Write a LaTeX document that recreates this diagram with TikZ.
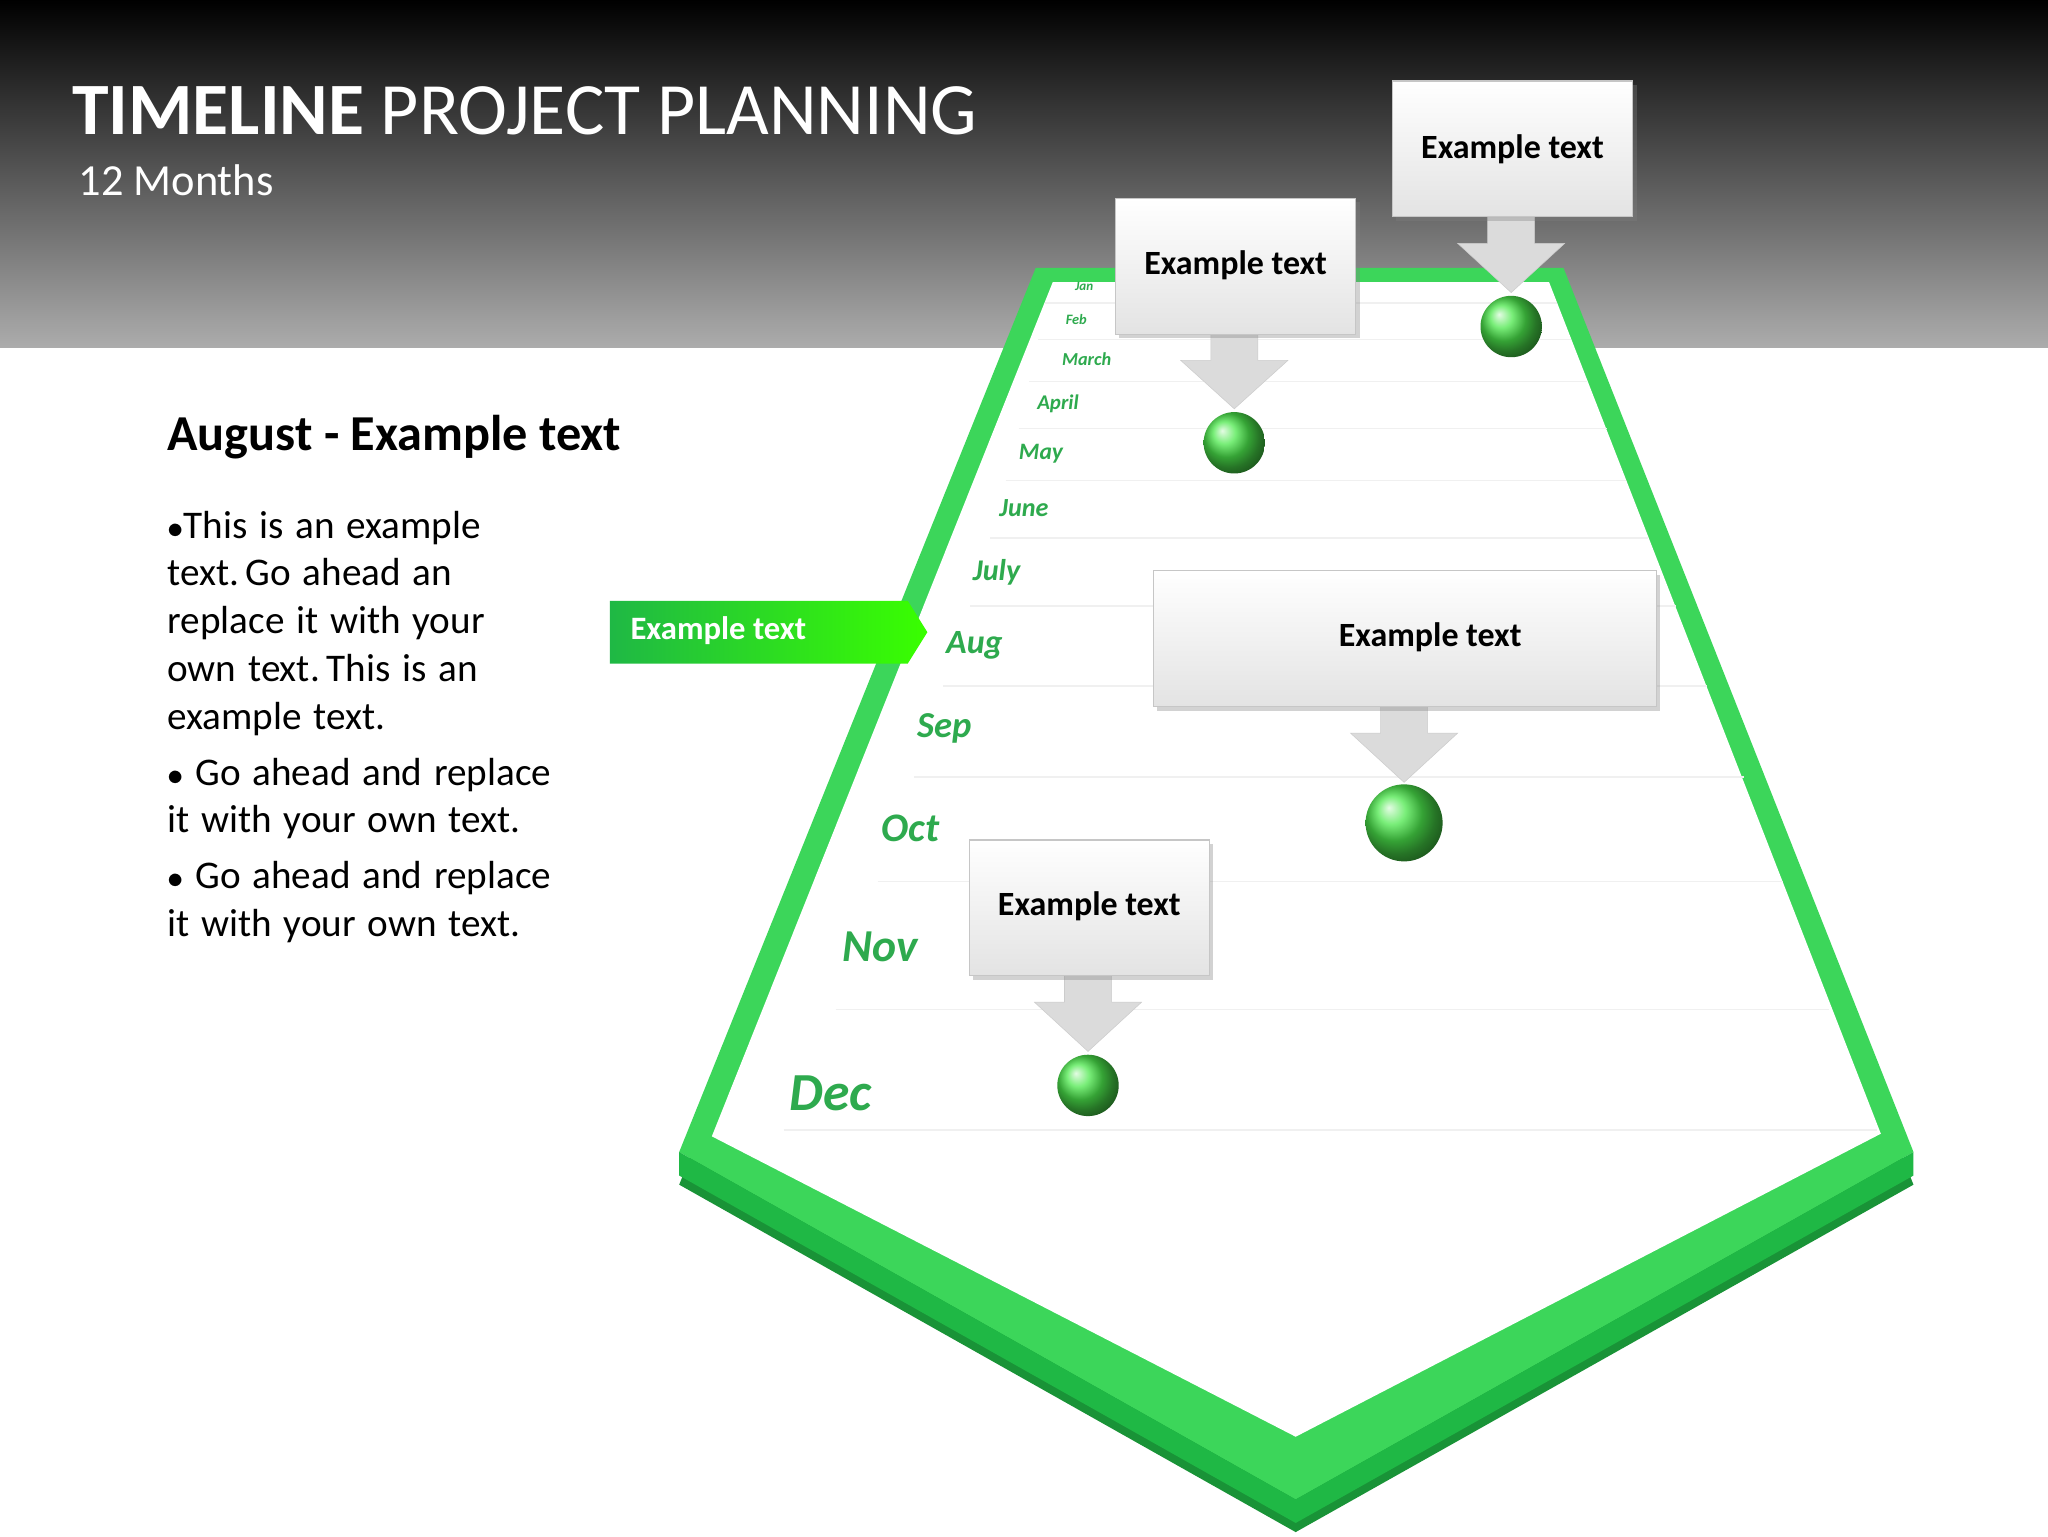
\documentclass[tikz,border=0pt]{standalone}
\usepackage{fontspec}
\setmainfont{Carlito}
\usetikzlibrary{shadows}
\definecolor{gA}{HTML}{3CD65A}
\definecolor{gB}{HTML}{1FB845}
\definecolor{gC}{HTML}{2EAA4E}
\definecolor{ballg}{HTML}{4CE84C}
\tikzset{
 callout/.style={draw=gray!45,line width=1pt,top color=white,bottom color=gray!22,drop shadow={opacity=0.35,shadow xshift=3pt,shadow yshift=-3pt}},
 ball/.style={circle,inner sep=0pt,minimum size=#1,ball color=ballg,shading=ball},
 ctext/.style={font=\bfseries\fontsize{26}{30}\selectfont,text=black},
 month/.style={text=gC,font=\bfseries\itshape\fontsize{#1}{#1}\selectfont}
}
\newcommand{\downarrowshape}[4]{% x, ytop, ytip, headwidth
 \fill[gray!28,draw=gray!40] (#1-18,#2) -- (#1+18,#2) -- (#1+18,#2+0.35*#3-0.35*#2) -- (#1+#4/2,#2+0.35*#3-0.35*#2) -- (#1,#3) -- (#1-#4/2,#2+0.35*#3-0.35*#2) -- (#1-18,#2+0.35*#3-0.35*#2) -- cycle;}
\begin{document}
\begin{tikzpicture}[x=1pt,y=-1pt]
\useasboundingbox (0,0) rectangle (1568,1176);
\fill[white] (0,0) rectangle (1568,1176);
\shade[top color=black,bottom color=gray!65] (0,0) rectangle (1568,266);
% titles
\node[anchor=base west,text=white,inner sep=0] (title) at (55,103) {\fontsize{56.5}{60}\selectfont\textbf{TIMELINE} PROJECT PLANNING};
\node[anchor=base west,text=white,inner sep=0] (sub) at (60,150) {\fontsize{34}{36}\selectfont 12 Months};
\node[anchor=base west,inner sep=0] (head) at (128,345) {\fontsize{38.5}{42}\selectfont\bfseries August - Example text};
\node[anchor=north west,inner sep=0,align=left,text width=340pt] (body) at (128,391) {\fontsize{30}{36.6}\selectfont\spaceskip=0.3em plus 0.1em
$\bullet$This is an example\\ text. Go ahead an\\ replace it with your\\ own text. This is an\\ example text.\\[6pt]
$\bullet$ Go ahead and replace\\ it with your own text.\\[6pt]
$\bullet$ Go ahead and replace\\ it with your own text.\par};
% board
\fill[gB!80!black] (793,230) -- (1197,230) -- (1465,907) -- (992,1173) -- (520,907) -- cycle;
\fill[gA] (793,205) -- (1197,205) -- (1465,882) -- (992,1148) -- (520,882) -- cycle;
\fill[gB] (520,882) -- (992,1148) -- (1465,882) -- (1465,900) -- (992,1166) -- (520,900) -- cycle;
\fill[white] (806,216) -- (1186,216) -- (1440,868) -- (992,1100) -- (545,870) -- cycle;
\foreach \y/\xl/\xr in {232/800/1192,260/795/1203,292/788/1215,328/780/1230,368/770/1245,412/758/1262,464/743/1283,525/722/1307,595/700/1335,675/672/1365,773/640/1400,865/600/1437}
  \draw[gray!12,line width=1.2pt] (\xl,\y) -- (\xr,\y);
% months
\node[month=10] (m1) at (830,219) {Jan};
\node[month=11] (m2) at (824,245) {Feb};
\node[month=14] (m3) at (832,275) {March};
\node[month=16] (m4) at (810,309) {April};
\node[month=18] (m5) at (797,347) {May};
\node[month=20] (m6) at (784,389) {June};
\node[month=23] (m7) at (763,438) {July};
\node[month=26] (m8) at (746,494) {Aug};
\node[month=28] (m9) at (723,558) {Sep};
\node[month=31] (m10) at (697,634) {Oct};
\node[month=35] (m11) at (674,725) {Nov};
\node[month=41] (m12) at (636,837) {Dec};
% green label
\shade[left color=gB,right color=green!70!lime] (467,460) -- (695,460) -- (710,484) -- (695,508) -- (467,508) -- cycle;
\node[text=white,font=\bfseries\fontsize{25}{28}\selectfont] (lab) at (550,483) {Example text};
% callouts
\downarrowshape{1157}{166}{224}{82}
\downarrowshape{945}{256}{313}{82}
\downarrowshape{1075}{541}{599}{82}
\downarrowshape{833}{747}{805}{82}
\path[callout] (1066,62) rectangle (1250,166);
\node[ctext] (c1) at (1158,114) {Example text};
\path[callout] (854,152) rectangle (1038,256);
\node[ctext] (c2) at (946,203) {Example text};
\path[callout] (883,437) rectangle (1268,541);
\node[ctext] (c3) at (1095,488) {Example text};
\path[callout] (742,643) rectangle (926,747);
\node[ctext] (c4) at (834,694) {Example text};
\node[ball=47pt] (b1) at (1157,250) {};
\node[ball=47pt] (b2) at (945,339) {};
\node[ball=59pt] (b3) at (1075,630) {};
\node[ball=47pt] (b4) at (833,831) {};
\end{tikzpicture}
\end{document}
